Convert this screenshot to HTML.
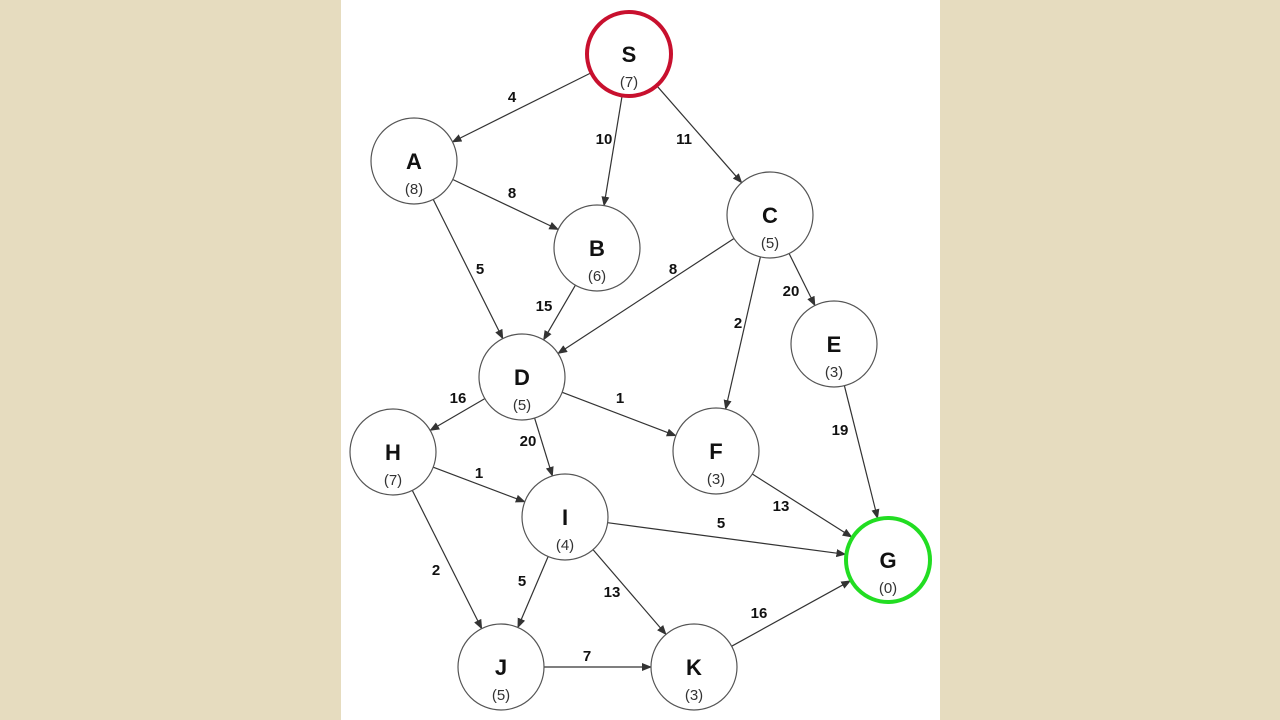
<!DOCTYPE html>
<html><head><style>
html,body{margin:0;padding:0;width:1280px;height:720px;overflow:hidden;background:#e6dcbf;}
svg{display:block}
</style></head><body>
<svg width="1280" height="720" xmlns="http://www.w3.org/2000/svg" font-family="Liberation Sans, sans-serif">
<defs><marker id="ar" markerWidth="10" markerHeight="8" refX="9" refY="4" orient="auto" markerUnits="userSpaceOnUse"><path d="M0,0 L10,4 L0,8 Z" fill="#333"/></marker></defs>
<rect x="0" y="0" width="1280" height="720" fill="#e6dcbf"/>
<rect x="341" y="0" width="599" height="720" fill="#fff"/>
<g stroke="#333" stroke-width="1.2" marker-end="url(#ar)">
<line x1="590.5" y1="73.1" x2="452.5" y2="141.9"/>
<line x1="622" y1="96.4" x2="604" y2="205.6"/>
<line x1="657.3" y1="86.3" x2="741.7" y2="182.7"/>
<line x1="452.8" y1="179.5" x2="558.2" y2="229.5"/>
<line x1="433.2" y1="199.4" x2="502.8" y2="338.6"/>
<line x1="575.4" y1="285.2" x2="543.6" y2="339.8"/>
<line x1="734" y1="238.5" x2="558" y2="353.5"/>
<line x1="760.4" y1="256.9" x2="725.6" y2="409.1"/>
<line x1="789.1" y1="253.5" x2="814.9" y2="305.5"/>
<line x1="844.4" y1="385.7" x2="877.6" y2="518.3"/>
<line x1="484.8" y1="398.6" x2="430.2" y2="430.4"/>
<line x1="562.2" y1="392.3" x2="675.8" y2="435.7"/>
<line x1="534.6" y1="418.1" x2="552.4" y2="475.9"/>
<line x1="433.2" y1="467.2" x2="524.8" y2="501.8"/>
<line x1="412.3" y1="490.4" x2="481.7" y2="628.6"/>
<line x1="752.3" y1="474" x2="851.7" y2="537"/>
<line x1="607.6" y1="522.7" x2="845.4" y2="554.3"/>
<line x1="548.1" y1="556.6" x2="517.9" y2="627.4"/>
<line x1="593" y1="549.6" x2="666" y2="634.4"/>
<line x1="544" y1="667" x2="651" y2="667"/>
<line x1="731.7" y1="646.2" x2="850.3" y2="580.8"/>
</g>
<g font-size="15" font-weight="bold" fill="#111" text-anchor="middle">
<text x="512" y="102">4</text>
<text x="604" y="144">10</text>
<text x="684" y="144">11</text>
<text x="512" y="198">8</text>
<text x="480" y="274">5</text>
<text x="544" y="311">15</text>
<text x="673" y="274">8</text>
<text x="738" y="328">2</text>
<text x="791" y="296">20</text>
<text x="840" y="435">19</text>
<text x="458" y="403">16</text>
<text x="620" y="403">1</text>
<text x="528" y="446">20</text>
<text x="479" y="478">1</text>
<text x="436" y="575">2</text>
<text x="781" y="511">13</text>
<text x="721" y="528">5</text>
<text x="522" y="586">5</text>
<text x="612" y="597">13</text>
<text x="587" y="661">7</text>
<text x="759" y="618">16</text>
</g>
<g fill="#fff" stroke="#555" stroke-width="1.2">
<circle cx="414" cy="161" r="43"/>
<circle cx="597" cy="248" r="43"/>
<circle cx="770" cy="215" r="43"/>
<circle cx="522" cy="377" r="43"/>
<circle cx="834" cy="344" r="43"/>
<circle cx="716" cy="451" r="43"/>
<circle cx="393" cy="452" r="43"/>
<circle cx="565" cy="517" r="43"/>
<circle cx="501" cy="667" r="43"/>
<circle cx="694" cy="667" r="43"/>
</g>
<circle cx="629" cy="54" r="42" fill="#fff" stroke="#c8102e" stroke-width="4"/>
<circle cx="888" cy="560" r="42" fill="#fff" stroke="#22dd22" stroke-width="4"/>
<g text-anchor="middle" fill="#111">
<g font-size="22" font-weight="bold">
<text x="629" y="62">S</text><text x="414" y="169">A</text><text x="597" y="256">B</text>
<text x="770" y="223">C</text><text x="522" y="385">D</text><text x="834" y="352">E</text>
<text x="716" y="459">F</text><text x="393" y="460">H</text><text x="565" y="525">I</text>
<text x="888" y="568">G</text><text x="501" y="675">J</text><text x="694" y="675">K</text>
</g>
<g font-size="15" fill="#333">
<text x="629" y="87">(7)</text><text x="414" y="194">(8)</text><text x="597" y="281">(6)</text>
<text x="770" y="248">(5)</text><text x="522" y="410">(5)</text><text x="834" y="377">(3)</text>
<text x="716" y="484">(3)</text><text x="393" y="485">(7)</text><text x="565" y="550">(4)</text>
<text x="888" y="593">(0)</text><text x="501" y="700">(5)</text><text x="694" y="700">(3)</text>
</g>
</g>
</svg>
</body></html>
